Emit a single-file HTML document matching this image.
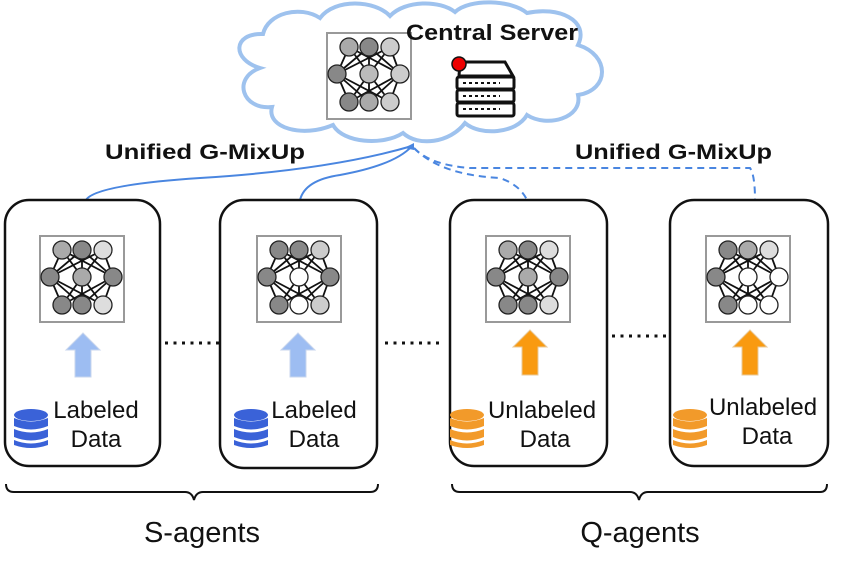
<!DOCTYPE html>
<html><head><meta charset="utf-8"><style>
html,body{margin:0;padding:0;background:#fff;}
svg{display:block;}
text{font-family:"Liberation Sans",Arial,sans-serif;}
</style></head><body>
<svg width="846" height="561" viewBox="0 0 846 561" xmlns="http://www.w3.org/2000/svg">
<defs>
<g id="net">
  <rect x="0" y="0" width="84" height="86" fill="#fff" stroke="#999" stroke-width="2"/>
  <g stroke="#111" stroke-width="1.8">
    <line x1="22" y1="14" x2="10" y2="41"/><line x1="22" y1="14" x2="42" y2="41"/><line x1="22" y1="14" x2="73" y2="41"/>
    <line x1="42" y1="14" x2="10" y2="41"/><line x1="42" y1="14" x2="42" y2="41"/><line x1="42" y1="14" x2="73" y2="41"/>
    <line x1="63" y1="14" x2="10" y2="41"/><line x1="63" y1="14" x2="42" y2="41"/><line x1="63" y1="14" x2="73" y2="41"/>
    <line x1="22" y1="69" x2="10" y2="41"/><line x1="22" y1="69" x2="42" y2="41"/><line x1="22" y1="69" x2="73" y2="41"/>
    <line x1="42" y1="69" x2="10" y2="41"/><line x1="42" y1="69" x2="42" y2="41"/><line x1="42" y1="69" x2="73" y2="41"/>
    <line x1="63" y1="69" x2="10" y2="41"/><line x1="63" y1="69" x2="42" y2="41"/><line x1="63" y1="69" x2="73" y2="41"/>
  </g>
</g>
<g id="db">
  <ellipse cx="17" cy="6" rx="17" ry="6"/>
  <path d="M0 9 Q17 16 34 9 V17 Q17 24 0 17 Z"/>
  <path d="M0 20 Q17 27 34 20 V28 Q17 35 0 28 Z"/>
  <path d="M0 31 Q17 38 34 31 V36 Q17 42 0 36 Z"/>
</g>
</defs>

<!-- cloud -->
<path d="M260 68 C232 60 232 33 263 34 C268 13 300 5 320 18 C335 -2 375 0 390 16 C405 0 440 0 455 12 C470 -2 512 0 527 13 C558 6 590 20 578 45 C610 55 610 90 578 95 C583 118 547 128 527 115 C516 134 480 136 465 123 C450 143 418 147 403 133 C383 146 343 143 333 125 C303 138 266 128 272 107 C242 110 232 78 260 68 Z" fill="#fff" stroke="#9ec2ee" stroke-width="4"/>

<!-- cloud network icon -->
<g transform="translate(327,33)">
  <use href="#net"/>
  <g stroke="#222" stroke-width="1.3">
    <circle cx="22" cy="14" r="9" fill="#aaa"/><circle cx="42" cy="14" r="9" fill="#888"/><circle cx="63" cy="14" r="9" fill="#ccc"/>
    <circle cx="10" cy="41" r="9" fill="#888"/><circle cx="42" cy="41" r="9" fill="#bbb"/><circle cx="73" cy="41" r="9" fill="#ccc"/>
    <circle cx="22" cy="69" r="9" fill="#888"/><circle cx="42" cy="69" r="9" fill="#aaa"/><circle cx="63" cy="69" r="9" fill="#ccc"/>
  </g>
</g>
<text x="406" y="40" font-size="22" font-weight="bold" fill="#111" textLength="172" lengthAdjust="spacingAndGlyphs">Central Server</text>

<!-- server icon -->
<g stroke="#111" stroke-width="3" fill="#fff">
  <path d="M459 76 L460 62 L505 62 L513 76 Z"/>
  <rect x="457" y="77" width="57" height="12" rx="2"/>
  <rect x="457" y="90" width="57" height="12" rx="2"/>
  <rect x="457" y="103" width="57" height="13" rx="2"/>
</g>
<g stroke="#111" stroke-width="2">
  <line x1="463" y1="83" x2="500" y2="83" stroke-dasharray="3 3"/>
  <line x1="463" y1="96" x2="500" y2="96" stroke-dasharray="3 3"/>
  <line x1="463" y1="109" x2="500" y2="109" stroke-dasharray="3 3"/>
</g>
<circle cx="459" cy="64" r="7" fill="#e00" stroke="#111" stroke-width="1.5"/>

<!-- labels -->
<text x="105" y="159" font-size="21" font-weight="bold" fill="#111" textLength="200" lengthAdjust="spacingAndGlyphs">Unified G-MixUp</text>
<text x="575" y="159" font-size="21" font-weight="bold" fill="#111" textLength="197" lengthAdjust="spacingAndGlyphs">Unified G-MixUp</text>

<!-- connectors -->
<g fill="none" stroke="#4a86e0" stroke-width="2">
  <path d="M86 200 Q95 185 200 178 Q330 170 412 146"/>
  <path d="M300 200 Q305 180 340 175 Q395 165 412 146"/>
  <path d="M414 148 Q430 165 470 168 L750 168 Q755 175 755 200" stroke-dasharray="7 5"/>
  <path d="M414 148 Q440 175 500 178 Q520 185 527 200" stroke-dasharray="7 5"/>
</g>
<path d="M404 148 L414 143 L414 150 Z" fill="#4a86e0"/>

<!-- boxes -->
<g fill="#fff" stroke="#111" stroke-width="2.5">
  <rect x="5" y="200" width="155" height="266" rx="24"/>
  <rect x="220" y="200" width="157" height="268" rx="24"/>
  <rect x="450" y="200" width="157" height="266" rx="24"/>
  <rect x="670" y="200" width="158" height="266" rx="24"/>
</g>

<!-- agent nets -->
<g transform="translate(40,236)"><use href="#net"/><g stroke="#222" stroke-width="1.3">
<circle cx="22" cy="14" r="9" fill="#aaa"/><circle cx="42" cy="14" r="9" fill="#888"/><circle cx="63" cy="14" r="9" fill="#ddd"/>
<circle cx="10" cy="41" r="9" fill="#888"/><circle cx="42" cy="41" r="9" fill="#aaa"/><circle cx="73" cy="41" r="9" fill="#888"/>
<circle cx="22" cy="69" r="9" fill="#888"/><circle cx="42" cy="69" r="9" fill="#888"/><circle cx="63" cy="69" r="9" fill="#ddd"/></g></g>
<g transform="translate(257,236)"><use href="#net"/><g stroke="#222" stroke-width="1.3">
<circle cx="22" cy="14" r="9" fill="#888"/><circle cx="42" cy="14" r="9" fill="#888"/><circle cx="63" cy="14" r="9" fill="#ccc"/>
<circle cx="10" cy="41" r="9" fill="#888"/><circle cx="42" cy="41" r="9" fill="#fff"/><circle cx="73" cy="41" r="9" fill="#888"/>
<circle cx="22" cy="69" r="9" fill="#888"/><circle cx="42" cy="69" r="9" fill="#fff"/><circle cx="63" cy="69" r="9" fill="#ccc"/></g></g>
<g transform="translate(486,236)"><use href="#net"/><g stroke="#222" stroke-width="1.3">
<circle cx="22" cy="14" r="9" fill="#aaa"/><circle cx="42" cy="14" r="9" fill="#888"/><circle cx="63" cy="14" r="9" fill="#ddd"/>
<circle cx="10" cy="41" r="9" fill="#888"/><circle cx="42" cy="41" r="9" fill="#aaa"/><circle cx="73" cy="41" r="9" fill="#888"/>
<circle cx="22" cy="69" r="9" fill="#888"/><circle cx="42" cy="69" r="9" fill="#888"/><circle cx="63" cy="69" r="9" fill="#ddd"/></g></g>
<g transform="translate(706,236)"><use href="#net"/><g stroke="#222" stroke-width="1.3">
<circle cx="22" cy="14" r="9" fill="#888"/><circle cx="42" cy="14" r="9" fill="#aaa"/><circle cx="63" cy="14" r="9" fill="#ddd"/>
<circle cx="10" cy="41" r="9" fill="#888"/><circle cx="42" cy="41" r="9" fill="#fff"/><circle cx="73" cy="41" r="9" fill="#fff"/>
<circle cx="22" cy="69" r="9" fill="#888"/><circle cx="42" cy="69" r="9" fill="#fff"/><circle cx="63" cy="69" r="9" fill="#fff"/></g></g>

<!-- up arrows -->
<g fill="#9dbdf2" stroke="#c8d6ee" stroke-width="1">
  <path d="M83 333 L100 350 L91 350 L91 377 L75 377 L75 350 L66 350 Z"/>
  <path d="M298 333 L315 350 L306 350 L306 377 L290 377 L290 350 L281 350 Z"/>
</g>
<g fill="#f99a10" stroke="#e8c99a" stroke-width="1">
  <path d="M530 330 L547 347 L538 347 L538 375 L522 375 L522 347 L513 347 Z"/>
  <path d="M750 330 L767 347 L758 347 L758 375 L742 375 L742 347 L733 347 Z"/>
</g>

<!-- dots -->
<g stroke="#111" stroke-width="3" stroke-dasharray="3 5.5">
  <line x1="165" y1="343" x2="220" y2="343"/>
  <line x1="385" y1="343" x2="440" y2="343"/>
  <line x1="612" y1="336" x2="667" y2="336"/>
</g>

<!-- db icons -->
<g fill="#3a62d8"><use href="#db" x="14" y="409"/><use href="#db" x="234" y="409"/></g>
<g fill="#f29a2a"><use href="#db" x="450" y="409"/><use href="#db" x="673" y="409"/></g>

<!-- data labels -->
<g font-size="24" fill="#111" text-anchor="middle">
  <text x="96" y="418">Labeled</text><text x="96" y="447">Data</text>
  <text x="314" y="418">Labeled</text><text x="314" y="447">Data</text>
  <text x="542" y="418">Unlabeled</text><text x="545" y="447">Data</text>
  <text x="763" y="415">Unlabeled</text><text x="767" y="444">Data</text>
</g>

<!-- braces -->
<g fill="none" stroke="#111" stroke-width="2">
  <path d="M6 484 Q6 492 14 492 L185 492 Q192 492 194 500 Q196 492 203 492 L370 492 Q378 492 378 484"/>
  <path d="M452 484 Q452 492 460 492 L630 492 Q637 492 639 500 Q641 492 648 492 L820 492 Q827 492 827 484"/>
</g>
<g font-size="29" fill="#111" text-anchor="middle">
  <text x="202" y="542">S-agents</text>
  <text x="640" y="542">Q-agents</text>
</g>
</svg>
</body></html>
